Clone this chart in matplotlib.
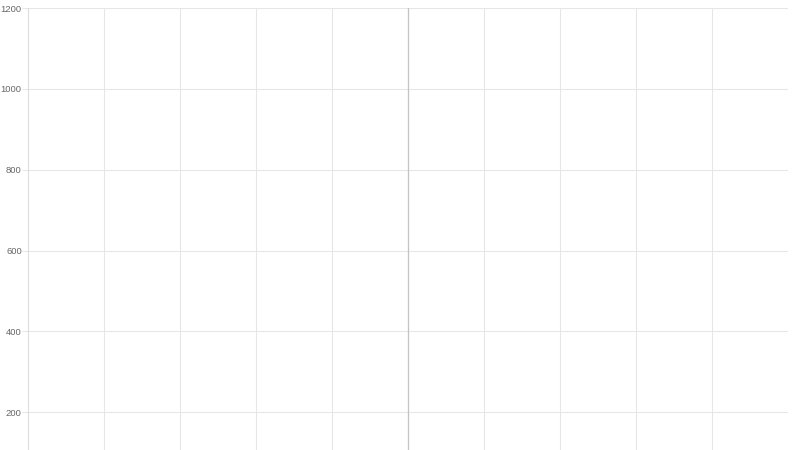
import numpy as np
import matplotlib.pyplot as plt

# empty chart: only the axes and grid are drawn
x_ticks = [-5, -4, -3, -2, -1, 0, 1, 2, 3, 4, 5]
y_ticks = [200, 400, 600, 800, 1000, 1200]
y_labels = ["200", "400", "600", "800", "1000", "1200"]

plt.rcParams['font.family'] = ['Liberation Sans', 'DejaVu Sans']

fig = plt.figure(figsize=(8, 4.5), dpi=100)
# the plot runs past the bottom of the picture (zero sits below the edge)
ax = fig.add_axes([28 / 800, (450 - 493) / 450, 760 / 800, 485 / 450])
ax.set_xlim(-5, 5)
ax.set_ylim(0, 1200)

ax.set_xticks(x_ticks)
ax.set_yticks(y_ticks)
ax.set_yticklabels(y_labels)
ax.tick_params(axis='x', length=0, labelbottom=False)
ax.tick_params(axis='y', length=4, width=0.75, color='#e6e6e6',
               labelcolor='#666666', labelsize=6.8, pad=0.5)

ax.grid(True, color='#e6e6e6', linewidth=0.75)
ax.set_axisbelow(True)
ax.axvline(0, color='#c4c4c4', linewidth=0.9)

for side in ['top', 'right', 'bottom']:
    ax.spines[side].set_visible(False)
ax.spines['left'].set_color('#dcdcdc')
ax.spines['left'].set_linewidth(0.75)

fig.savefig("out.png", dpi=100)
